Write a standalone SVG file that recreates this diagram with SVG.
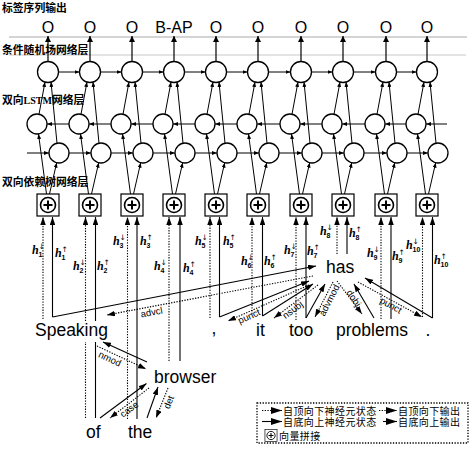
<svg xmlns="http://www.w3.org/2000/svg" width="474" height="454" viewBox="0 0 474 454">
<style>
.c{fill:#fff;stroke:#000;stroke-width:1.3}
.n{stroke:#000;stroke-width:1;fill:none;marker-end:url(#ms)}
.u{stroke:#000;stroke-width:1.2;marker-end:url(#mu)}
.v{stroke:#000;stroke-width:1.1;marker-end:url(#mt)}
.vd{stroke:#000;stroke-width:1.1;stroke-dasharray:1.3 1.4;marker-end:url(#mt)}
.pl{stroke:#000;stroke-width:1.1}
.pd{stroke:#000;stroke-width:1.1;stroke-dasharray:1.3 1.4}
.ls{stroke:#000;stroke-width:1.1;marker-end:url(#ml)}
.ld{stroke:#000;stroke-width:1.1;stroke-dasharray:1.3 1.4;marker-end:url(#ml)}
.o{font-family:"Liberation Sans",Arial,sans-serif;font-size:16px;text-anchor:middle}
.w{font-family:"Liberation Sans",Arial,sans-serif;font-size:17.5px}
.lb{font-family:"Liberation Sans",Arial,sans-serif;font-size:9.5px;text-anchor:middle;dominant-baseline:central}
.zh{font-family:"Noto Sans CJK SC",sans-serif;font-size:10.8px;font-weight:bold}
.lt{font-family:"Liberation Serif",serif;font-size:10px;font-weight:bold}
.lg{font-family:"Noto Sans CJK SC",sans-serif;font-size:10px;letter-spacing:0.4px}
.h{font-family:"Liberation Serif",serif;font-style:italic;font-weight:bold;font-size:12px}
.s{font-family:"Liberation Sans",sans-serif;font-style:normal;font-size:7px}
.a{font-family:"DejaVu Sans",sans-serif;font-style:normal;font-weight:normal;font-size:7.5px}
.legbox{fill:none;stroke:#000;stroke-width:1.3;stroke-dasharray:1.3 1.5}
</style>
<defs>
<marker id="ms" viewBox="0 0 5 4" refX="5" refY="2" markerWidth="5" markerHeight="4" markerUnits="userSpaceOnUse" orient="auto"><path d="M0,0L5,2L0,4z"/></marker>
<marker id="mu" viewBox="0 0 6 6" refX="6" refY="3" markerWidth="6" markerHeight="6" markerUnits="userSpaceOnUse" orient="auto"><path d="M0,0L6,3L0,6z"/></marker>
<marker id="mt" viewBox="0 0 8 5.5" refX="8" refY="2.75" markerWidth="8" markerHeight="5.5" markerUnits="userSpaceOnUse" orient="auto"><path d="M0,0L8,2.75L0,5.5z"/></marker>
<marker id="ml" viewBox="0 0 11 7" refX="11" refY="3.5" markerWidth="11" markerHeight="7" markerUnits="userSpaceOnUse" orient="auto"><path d="M0,0L11,3.5L0,7z"/></marker>
<g id="catsym"><rect x="-11" y="-11" width="22" height="22" fill="#fff" stroke="#000" stroke-width="1.2"/><circle r="7.5" fill="#fff" stroke="#000" stroke-width="1.6"/><path d="M-4.5,0H4.5M0,-4.5V4.5" stroke="#000" stroke-width="2"/></g>
</defs>
<rect width="474" height="454" fill="#fff"/>

<g id="layers">
<line x1="9" y1="37" x2="467" y2="37" stroke="#a9a9a9" stroke-width="1"/>
<line x1="9" y1="55" x2="466" y2="55" stroke="#c8c8c8" stroke-width="1"/>
<text class="zh" x="2" y="12">标签序列输出</text>
<text class="zh" x="2" y="53.5">条件随机场网络层</text>
<text class="zh" x="2" y="104">双向<tspan class="lt">LSTM</tspan>网络层</text>
<text class="zh" x="2" y="186">双向依赖树网络层</text>
</g>

<g id="connectors">
<g id="out-arrows">
<line class="u" x1="48" y1="61.5" x2="48" y2="36"/><line class="u" x1="90" y1="61.5" x2="90" y2="36"/><line class="u" x1="132" y1="61.5" x2="132" y2="36"/><line class="u" x1="174" y1="61.5" x2="174" y2="36"/><line class="u" x1="216" y1="61.5" x2="216" y2="36"/><line class="u" x1="258" y1="61.5" x2="258" y2="36"/><line class="u" x1="301" y1="61.5" x2="301" y2="36"/><line class="u" x1="343" y1="61.5" x2="343" y2="36"/><line class="u" x1="386" y1="61.5" x2="386" y2="36"/><line class="u" x1="427" y1="61.5" x2="427" y2="36"/>
</g>
<g id="crf-chain">
<line class="n" x1="58.5" y1="72" x2="79.5" y2="72"/><line class="n" x1="100.5" y1="72" x2="121.5" y2="72"/><line class="n" x1="142.5" y1="72" x2="163.5" y2="72"/><line class="n" x1="184.5" y1="72" x2="205.5" y2="72"/><line class="n" x1="226.5" y1="72" x2="247.5" y2="72"/><line class="n" x1="268.5" y1="72" x2="290.5" y2="72"/><line class="n" x1="311.5" y1="72" x2="332.5" y2="72"/><line class="n" x1="353.5" y1="72" x2="375.5" y2="72"/><line class="n" x1="396.5" y1="72" x2="416.5" y2="72"/>
</g>
<g id="bw-chain">
<line class="n" x1="69" y1="124" x2="47" y2="124"/><line class="n" x1="111" y1="124" x2="89" y2="124"/><line class="n" x1="153" y1="124" x2="131" y2="124"/><line class="n" x1="195" y1="124" x2="173" y2="124"/><line class="n" x1="237" y1="124" x2="215" y2="124"/><line class="n" x1="280" y1="124" x2="257" y2="124"/><line class="n" x1="322" y1="124" x2="300" y2="124"/><line class="n" x1="365" y1="124" x2="342" y2="124"/><line class="n" x1="406" y1="124" x2="385" y2="124"/><line class="n" x1="447" y1="124" x2="426" y2="124"/>
</g>
<g id="fw-chain">
<line class="n" x1="27" y1="153" x2="49" y2="153"/><line class="n" x1="69" y1="153" x2="91" y2="153"/><line class="n" x1="111" y1="153" x2="133" y2="153"/><line class="n" x1="153" y1="153" x2="175" y2="153"/><line class="n" x1="195" y1="153" x2="217" y2="153"/><line class="n" x1="237" y1="153" x2="259" y2="153"/><line class="n" x1="279" y1="153" x2="302" y2="153"/><line class="n" x1="322" y1="153" x2="344" y2="153"/><line class="n" x1="364" y1="153" x2="387" y2="153"/><line class="n" x1="407" y1="153" x2="428" y2="153"/>
</g>
<g id="cat-to-lstm">
<line class="n" x1="46.5" y1="194" x2="38.5" y2="134"/><line class="n" x1="49.5" y1="194" x2="56.7" y2="162.7"/>
<line class="n" x1="88.5" y1="194" x2="80.5" y2="134"/><line class="n" x1="91.5" y1="194" x2="98.7" y2="162.7"/>
<line class="n" x1="130.5" y1="194" x2="122.5" y2="134"/><line class="n" x1="133.5" y1="194" x2="140.7" y2="162.7"/>
<line class="n" x1="172.5" y1="194" x2="164.5" y2="134"/><line class="n" x1="175.5" y1="194" x2="182.7" y2="162.7"/>
<line class="n" x1="214.5" y1="194" x2="206.5" y2="134"/><line class="n" x1="217.5" y1="194" x2="224.7" y2="162.7"/>
<line class="n" x1="256.5" y1="194" x2="248.5" y2="134"/><line class="n" x1="259.5" y1="194" x2="266.7" y2="162.7"/>
<line class="n" x1="299.5" y1="194" x2="291.5" y2="134"/><line class="n" x1="302.5" y1="194" x2="309.7" y2="162.7"/>
<line class="n" x1="341.5" y1="194" x2="333.5" y2="134"/><line class="n" x1="344.5" y1="194" x2="351.7" y2="162.7"/>
<line class="n" x1="384.5" y1="194" x2="376.5" y2="134"/><line class="n" x1="387.5" y1="194" x2="394.7" y2="162.7"/>
<line class="n" x1="425.5" y1="194" x2="417.5" y2="134"/><line class="n" x1="428.5" y1="194" x2="435.7" y2="162.7"/>
</g>
<g id="lstm-to-crf">
<line class="n" x1="39" y1="114.2" x2="45" y2="82"/><line class="n" x1="57" y1="143.2" x2="51" y2="82"/>
<line class="n" x1="81" y1="114.2" x2="87" y2="82"/><line class="n" x1="99" y1="143.2" x2="93" y2="82"/>
<line class="n" x1="123" y1="114.2" x2="129" y2="82"/><line class="n" x1="141" y1="143.2" x2="135" y2="82"/>
<line class="n" x1="165" y1="114.2" x2="171" y2="82"/><line class="n" x1="183" y1="143.2" x2="177" y2="82"/>
<line class="n" x1="207" y1="114.2" x2="213" y2="82"/><line class="n" x1="225" y1="143.2" x2="219" y2="82"/>
<line class="n" x1="249" y1="114.2" x2="255" y2="82"/><line class="n" x1="267" y1="143.2" x2="261" y2="82"/>
<line class="n" x1="292" y1="114.2" x2="298" y2="82"/><line class="n" x1="310" y1="143.2" x2="304" y2="82"/>
<line class="n" x1="334" y1="114.2" x2="340" y2="82"/><line class="n" x1="352" y1="143.2" x2="346" y2="82"/>
<line class="n" x1="377" y1="114.2" x2="383" y2="82"/><line class="n" x1="395" y1="143.2" x2="389" y2="82"/>
<line class="n" x1="418" y1="114.2" x2="424" y2="82"/><line class="n" x1="436" y1="143.2" x2="430" y2="82"/>
</g>
<g id="word-to-cat">
<line class="vd" x1="43" y1="319" x2="43" y2="217"/><line class="v" x1="52.5" y1="317" x2="52.5" y2="217"/>
<line class="pd" x1="85.5" y1="418" x2="85.5" y2="342"/><line class="vd" x1="85.5" y1="321" x2="85.5" y2="217"/>
<line class="pl" x1="95.5" y1="418" x2="95.5" y2="342"/><line class="v" x1="95.5" y1="321" x2="95.5" y2="217"/>
<line class="vd" x1="127.5" y1="419" x2="127.5" y2="217"/><line class="v" x1="137" y1="419" x2="137" y2="217"/>
<line class="vd" x1="169" y1="361" x2="169" y2="217"/><line class="v" x1="180" y1="361" x2="180" y2="217"/>
<line class="vd" x1="210" y1="318" x2="210" y2="217"/><line class="v" x1="219.5" y1="317" x2="219.5" y2="217"/>
<line class="vd" x1="252" y1="314" x2="252" y2="217"/><line class="v" x1="262.5" y1="316" x2="262.5" y2="217"/>
<line class="vd" x1="296" y1="320" x2="296" y2="217"/><line class="v" x1="306" y1="318" x2="306" y2="217"/>
<line class="vd" x1="337" y1="254" x2="337" y2="217"/><line class="v" x1="347" y1="254" x2="347" y2="217"/>
<line class="vd" x1="381" y1="319" x2="381" y2="217"/><line class="v" x1="391" y1="319" x2="391" y2="217"/>
<line class="vd" x1="422.5" y1="317" x2="422.5" y2="217"/><line class="v" x1="432.5" y1="318" x2="432.5" y2="217"/>
</g>
<g id="dep-arcs">
<line class="v" x1="52.5" y1="317" x2="316" y2="266"/><line class="vd" x1="313" y1="276" x2="107" y2="315"/>
<line class="v" x1="219.5" y1="317" x2="309" y2="281"/><line class="vd" x1="309" y1="285" x2="228" y2="321"/>
<line class="v" x1="262.5" y1="316" x2="313" y2="284"/><line class="vd" x1="318" y1="285" x2="274" y2="318"/>
<line class="v" x1="306" y1="318" x2="325" y2="284"/><line class="vd" x1="333" y1="282" x2="315" y2="317"/>
<line class="v" x1="374" y1="318" x2="354" y2="284"/><line class="vd" x1="337" y1="281" x2="362" y2="314"/>
<line class="v" x1="432.5" y1="318" x2="365" y2="278"/><line class="vd" x1="358" y1="282" x2="422" y2="317"/>
<line class="v" x1="147" y1="362" x2="103" y2="342"/><line class="vd" x1="97" y1="346" x2="146" y2="369"/>
<line class="v" x1="100" y1="418" x2="146.5" y2="383.5"/><line class="vd" x1="149" y1="388" x2="110" y2="418"/>
<line class="v" x1="147" y1="418" x2="158" y2="387"/><line class="vd" x1="168" y1="388" x2="156" y2="418"/>
</g>
</g>

<g id="nodes">
<g id="outputs">
<g id="out-1"><text class="o" x="48" y="33">O</text></g>
<g id="out-2"><text class="o" x="90" y="33">O</text></g>
<g id="out-3"><text class="o" x="132" y="33">O</text></g>
<g id="out-4"><text class="o" x="174" y="33">B-AP</text></g>
<g id="out-5"><text class="o" x="216" y="33">O</text></g>
<g id="out-6"><text class="o" x="258" y="33">O</text></g>
<g id="out-7"><text class="o" x="301" y="33">O</text></g>
<g id="out-8"><text class="o" x="343" y="33">O</text></g>
<g id="out-9"><text class="o" x="386" y="33">O</text></g>
<g id="out-10"><text class="o" x="427" y="33">O</text></g>
</g>
<g id="crf">
<g id="crf-1"><circle class="c" cx="48" cy="72" r="10.5"/></g>
<g id="crf-2"><circle class="c" cx="90" cy="72" r="10.5"/></g>
<g id="crf-3"><circle class="c" cx="132" cy="72" r="10.5"/></g>
<g id="crf-4"><circle class="c" cx="174" cy="72" r="10.5"/></g>
<g id="crf-5"><circle class="c" cx="216" cy="72" r="10.5"/></g>
<g id="crf-6"><circle class="c" cx="258" cy="72" r="10.5"/></g>
<g id="crf-7"><circle class="c" cx="301" cy="72" r="10.5"/></g>
<g id="crf-8"><circle class="c" cx="343" cy="72" r="10.5"/></g>
<g id="crf-9"><circle class="c" cx="386" cy="72" r="10.5"/></g>
<g id="crf-10"><circle class="c" cx="427" cy="72" r="10.5"/></g>
</g>
<g id="lstm-bw">
<g id="bw-1"><circle class="c" cx="37" cy="124" r="10"/></g>
<g id="bw-2"><circle class="c" cx="79" cy="124" r="10"/></g>
<g id="bw-3"><circle class="c" cx="121" cy="124" r="10"/></g>
<g id="bw-4"><circle class="c" cx="163" cy="124" r="10"/></g>
<g id="bw-5"><circle class="c" cx="205" cy="124" r="10"/></g>
<g id="bw-6"><circle class="c" cx="247" cy="124" r="10"/></g>
<g id="bw-7"><circle class="c" cx="290" cy="124" r="10"/></g>
<g id="bw-8"><circle class="c" cx="332" cy="124" r="10"/></g>
<g id="bw-9"><circle class="c" cx="375" cy="124" r="10"/></g>
<g id="bw-10"><circle class="c" cx="416" cy="124" r="10"/></g>
</g>
<g id="lstm-fw">
<g id="fw-1"><circle class="c" cx="59" cy="153" r="10"/></g>
<g id="fw-2"><circle class="c" cx="101" cy="153" r="10"/></g>
<g id="fw-3"><circle class="c" cx="143" cy="153" r="10"/></g>
<g id="fw-4"><circle class="c" cx="185" cy="153" r="10"/></g>
<g id="fw-5"><circle class="c" cx="227" cy="153" r="10"/></g>
<g id="fw-6"><circle class="c" cx="269" cy="153" r="10"/></g>
<g id="fw-7"><circle class="c" cx="312" cy="153" r="10"/></g>
<g id="fw-8"><circle class="c" cx="354" cy="153" r="10"/></g>
<g id="fw-9"><circle class="c" cx="397" cy="153" r="10"/></g>
<g id="fw-10"><circle class="c" cx="438" cy="153" r="10"/></g>
</g>
<g id="concat">
<g id="cat-1"><use href="#catsym" x="48" y="205"/></g>
<g id="cat-2"><use href="#catsym" x="90" y="205"/></g>
<g id="cat-3"><use href="#catsym" x="132" y="205"/></g>
<g id="cat-4"><use href="#catsym" x="174" y="205"/></g>
<g id="cat-5"><use href="#catsym" x="216" y="205"/></g>
<g id="cat-6"><use href="#catsym" x="258" y="205"/></g>
<g id="cat-7"><use href="#catsym" x="301" y="205"/></g>
<g id="cat-8"><use href="#catsym" x="343" y="205"/></g>
<g id="cat-9"><use href="#catsym" x="386" y="205"/></g>
<g id="cat-10"><use href="#catsym" x="427" y="205"/></g>
</g>
<g id="words">
<g id="w-speaking"><text class="w" x="35" y="335.5">Speaking</text></g>
<g id="w-of"><text class="w" x="86" y="437.5">of</text></g>
<g id="w-the"><text class="w" x="128" y="437.5">the</text></g>
<g id="w-browser"><text class="w" x="154" y="383">browser</text></g>
<g id="w-comma"><text class="w" x="211.5" y="334">,</text></g>
<g id="w-it"><text class="w" x="256" y="336">it</text></g>
<g id="w-too"><text class="w" x="289" y="336">too</text></g>
<g id="w-has"><text class="w" x="326" y="273">has</text></g>
<g id="w-problems"><text class="w" x="336" y="336">problems</text></g>
<g id="w-period"><text class="w" x="425.5" y="336">.</text></g>
</g>
</g>

<g id="state-labels">
<text class="h" x="32" y="253.5">h<tspan class="a" x="38.5" y="249">↓</tspan><tspan class="s" x="38.5" y="257">1</tspan></text>
<text class="h" x="55" y="256.5">h<tspan class="a" x="61.5" y="252">↑</tspan><tspan class="s" x="61.5" y="260">1</tspan></text>
<text class="h" x="73" y="269.5">h<tspan class="a" x="79.5" y="265">↓</tspan><tspan class="s" x="79.5" y="273">2</tspan></text>
<text class="h" x="97" y="269.5">h<tspan class="a" x="103.5" y="265">↑</tspan><tspan class="s" x="103.5" y="273">2</tspan></text>
<text class="h" x="113" y="244.5">h<tspan class="a" x="119.5" y="240">↓</tspan><tspan class="s" x="119.5" y="248">3</tspan></text>
<text class="h" x="140" y="244.5">h<tspan class="a" x="146.5" y="240">↑</tspan><tspan class="s" x="146.5" y="248">3</tspan></text>
<text class="h" x="154" y="269.5">h<tspan class="a" x="160.5" y="265">↓</tspan><tspan class="s" x="160.5" y="273">4</tspan></text>
<text class="h" x="183" y="271.5">h<tspan class="a" x="189.5" y="267">↑</tspan><tspan class="s" x="189.5" y="275">4</tspan></text>
<text class="h" x="195" y="244.5">h<tspan class="a" x="201.5" y="240">↓</tspan><tspan class="s" x="201.5" y="248">5</tspan></text>
<text class="h" x="223" y="244.5">h<tspan class="a" x="229.5" y="240">↑</tspan><tspan class="s" x="229.5" y="248">5</tspan></text>
<text class="h" x="241" y="264.5">h<tspan class="a" x="247.5" y="260">↓</tspan><tspan class="s" x="247.5" y="268">6</tspan></text>
<text class="h" x="264" y="264.5">h<tspan class="a" x="270.5" y="260">↑</tspan><tspan class="s" x="270.5" y="268">6</tspan></text>
<text class="h" x="284" y="253.5">h<tspan class="a" x="290.5" y="249">↓</tspan><tspan class="s" x="290.5" y="257">7</tspan></text>
<text class="h" x="307" y="254.5">h<tspan class="a" x="313.5" y="250">↑</tspan><tspan class="s" x="313.5" y="258">7</tspan></text>
<text class="h" x="320" y="234.5">h<tspan class="a" x="326.5" y="230">↓</tspan><tspan class="s" x="326.5" y="238">8</tspan></text>
<text class="h" x="349" y="236.5">h<tspan class="a" x="355.5" y="232">↑</tspan><tspan class="s" x="355.5" y="240">8</tspan></text>
<text class="h" x="367" y="256.5">h<tspan class="a" x="373.5" y="252">↓</tspan><tspan class="s" x="373.5" y="260">9</tspan></text>
<text class="h" x="392" y="259.5">h<tspan class="a" x="398.5" y="255">↑</tspan><tspan class="s" x="398.5" y="263">9</tspan></text>
<text class="h" x="406" y="248.5">h<tspan class="a" x="412.5" y="244">↓</tspan><tspan class="s" x="412.5" y="252">10</tspan></text>
<text class="h" x="434" y="263.5">h<tspan class="a" x="440.5" y="259">↑</tspan><tspan class="s" x="440.5" y="267">10</tspan></text>
</g>

<g id="dep-labels">
<text class="lb" transform="translate(151.5,312) rotate(-10.8)">advcl</text>
<text class="lb" transform="translate(249,316) rotate(-24)">punct</text>
<text class="lb" transform="translate(292.5,309.5) rotate(-37)">nsubj</text>
<text class="lb" transform="translate(329,300) rotate(-63)">advmod</text>
<text class="lb" transform="translate(354,298) rotate(56)">dobj</text>
<text class="lb" transform="translate(391,305) rotate(29)">punct</text>
<text class="lb" transform="translate(110,358.5) rotate(25)">nmod</text>
<text class="lb" transform="translate(129,409) rotate(-37)">case</text>
<text class="lb" transform="translate(168.5,402) rotate(-68)">det</text>
</g>

<g id="legend">
<rect class="legbox" x="257" y="403" width="211" height="40"/>
<line class="ld" x1="262" y1="410.5" x2="282" y2="410.5"/>
<text class="lg" x="283" y="414.5">自顶向下神经元状态</text>
<line class="ld" x1="379" y1="410.5" x2="397" y2="410.5"/>
<text class="lg" x="398" y="414.5">自顶向下输出</text>
<line class="ls" x1="262" y1="421.5" x2="282" y2="421.5"/>
<text class="lg" x="283" y="425.5">自底向上神经元状态</text>
<line class="ls" x1="383" y1="421.5" x2="397" y2="421.5"/>
<text class="lg" x="398" y="425.5">自底向上输出</text>
<use href="#catsym" transform="translate(271,435.5) scale(0.55)"/>
<text class="lg" x="279" y="439.5">向量拼接</text>
</g>
</svg>
